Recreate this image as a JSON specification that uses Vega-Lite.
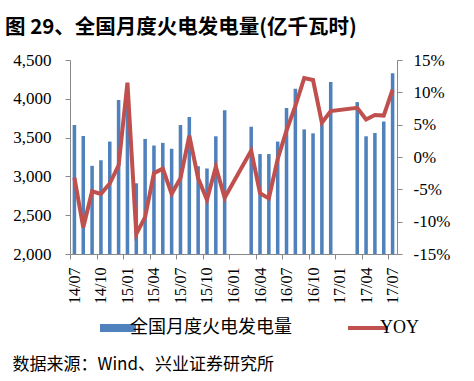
{
  "$schema": "https://vega.github.io/schema/vega-lite/v6.json",
  "width": 327,
  "height": 194,
  "autosize": {"type": "none"},
  "padding": {"left": 70, "top": 60, "right": 77, "bottom": 127},
  "background": "white",
  "config": {"view": {"stroke": null}, "font": "Liberation Serif", "axis": {"labelFont": "Liberation Serif"}},
  "title": {
    "text": "图 29、全国月度火电发电量(亿千瓦时)",
    "anchor": "start",
    "frame": "group",
    "dx": -65,
    "offset": 13,
    "font": "Noto Sans CJK SC",
    "fontSize": 20.5,
    "fontWeight": "bold",
    "color": "#000"
  },
  "data": {
    "values": [
      {"m": "14/07", "v": 3661, "yoy": -0.032},
      {"m": "14/08", "v": 3521, "yoy": -0.109},
      {"m": "14/09", "v": 3136, "yoy": -0.053},
      {"m": "14/10", "v": 3208, "yoy": -0.057},
      {"m": "14/11", "v": 3449, "yoy": -0.041},
      {"m": "14/12", "v": 3985, "yoy": -0.013},
      {"m": "15/01", "v": 4100, "yoy": 0.115},
      {"m": "15/02", "v": 2911, "yoy": -0.119},
      {"m": "15/03", "v": 3483, "yoy": -0.093},
      {"m": "15/04", "v": 3398, "yoy": -0.025},
      {"m": "15/05", "v": 3432, "yoy": -0.018},
      {"m": "15/06", "v": 3356, "yoy": -0.057},
      {"m": "15/07", "v": 3661, "yoy": -0.033},
      {"m": "15/08", "v": 3767, "yoy": 0.033},
      {"m": "15/09", "v": 3131, "yoy": -0.033},
      {"m": "15/10", "v": 3102, "yoy": -0.066},
      {"m": "15/11", "v": 3517, "yoy": -0.015},
      {"m": "15/12", "v": 3852, "yoy": -0.063},
      {"m": "16/03", "v": 3640, "yoy": 0.010},
      {"m": "16/04", "v": 3288, "yoy": -0.056},
      {"m": "16/05", "v": 3288, "yoy": -0.064},
      {"m": "16/06", "v": 3449, "yoy": -0.003},
      {"m": "16/07", "v": 3881, "yoy": 0.041},
      {"m": "16/08", "v": 4131, "yoy": 0.079},
      {"m": "16/09", "v": 3606, "yoy": 0.122},
      {"m": "16/10", "v": 3555, "yoy": 0.119},
      {"m": "16/11", "v": 3674, "yoy": 0.053},
      {"m": "16/12", "v": 4216, "yoy": 0.071},
      {"m": "17/03", "v": 3957, "yoy": 0.076},
      {"m": "17/04", "v": 3517, "yoy": 0.058},
      {"m": "17/05", "v": 3559, "yoy": 0.065},
      {"m": "17/06", "v": 3708, "yoy": 0.064},
      {"m": "17/07", "v": 4330, "yoy": 0.104}
    ]
  },
  "encoding": {
    "x": {
      "field": "m",
      "type": "ordinal",
      "scale": {
        "domain": ["14/07","14/08","14/09","14/10","14/11","14/12","15/01","15/02","15/03","15/04","15/05","15/06","15/07","15/08","15/09","15/10","15/11","15/12","16/01","16/02","16/03","16/04","16/05","16/06","16/07","16/08","16/09","16/10","16/11","16/12","17/01","17/02","17/03","17/04","17/05","17/06","17/07"],
        "paddingInner": 0.6,
        "paddingOuter": 0.3
      },
      "axis": {
        "values": ["14/07","14/10","15/01","15/04","15/07","15/10","16/01","16/04","16/07","16/10","17/01","17/04","17/07"],
        "labelAngle": -90,
        "labelFont": "Liberation Serif",
        "labelFontSize": 16,
        "labelColor": "#000",
        "labelPadding": 8,
        "bandPosition": 0.5,
        "tickOffset": -4.42,
        "labelOffset": 4.42,
        "tickSize": 5,
        "tickColor": "#898989",
        "domainColor": "#898989",
        "grid": false,
        "title": "数据来源：Wind、兴业证券研究所",
        "titleFont": "Noto Sans CJK SC",
        "titleFontSize": 17,
        "titleFontWeight": "normal",
        "titleColor": "#000",
        "titleAnchor": "start",
        "titleAlign": "left",
        "titleBaseline": "middle",
        "titleX": -58,
        "titleY": 110
      }
    }
  },
  "layer": [
    {
      "mark": {"type": "bar"},
      "encoding": {
        "y": {
          "field": "v",
          "type": "quantitative",
          "scale": {"domain": [2000, 4500], "zero": false},
          "axis": {
            "title": null,
            "values": [2000, 2500, 3000, 3500, 4000, 4500],
            "format": ",.0f",
            "grid": false,
            "labelFont": "Liberation Serif",
            "labelFontSize": 17,
            "labelColor": "#000",
            "labelPadding": 14,
            "tickSize": 5,
            "tickColor": "#898989",
            "domainColor": "#898989"
          }
        },
        "y2": {"datum": 2000},
        "color": {
          "datum": "全国月度火电发电量",
          "scale": {"domain": ["全国月度火电发电量", "YOY"], "range": ["#4F81BD", "#C0504D"]},
          "legend": {
            "orient": "none",
            "legendX": 39,
            "legendY": 259,
            "direction": "horizontal",
            "columns": 2,
            "columnPadding": 48,
            "title": null,
            "symbolSize": 1600,
            "labelFontSize": 18,
            "labelLimit": 400,
            "labelFont": "Noto Sans CJK SC",
            "labelColor": "#000",
            "labelOffset": 3,
            "encode": {
              "symbols": {
                "update": {
                  "shape": {"signal": "datum.label === 'YOY' ? 'M-1,0H1' : 'M-0.9,-0.2H0.9V0.2H-0.9Z'"},
                  "fill": {"signal": "datum.label === 'YOY' ? 'transparent' : '#4F81BD'"},
                  "stroke": {"signal": "datum.label === 'YOY' ? '#C0504D' : 'transparent'"},
                  "strokeWidth": {"signal": "datum.label === 'YOY' ? 4 : 0"},
                  "opacity": {"value": 1},
                  "fillOpacity": {"value": 1},
                  "strokeOpacity": {"value": 1},
                  "size": {"value": 1600}
                }
              },
              "labels": {
                "update": {
                  "font": {"signal": "datum.label === 'YOY' ? 'Liberation Serif' : 'Noto Sans CJK SC'"}
                }
              }
            }
          }
        }
      }
    },
    {
      "mark": {"type": "line", "strokeWidth": 4},
      "encoding": {
        "y": {
          "field": "yoy",
          "type": "quantitative",
          "scale": {"domain": [-0.15, 0.15]},
          "axis": {
            "orient": "right",
            "title": null,
            "values": [-0.15, -0.1, -0.05, 0, 0.05, 0.1, 0.15],
            "format": ".0%",
            "labelExpr": "replace(datum.label, '−', '-')",
            "grid": false,
            "labelFont": "Liberation Serif",
            "labelFontSize": 17,
            "labelColor": "#000",
            "labelPadding": 11,
            "tickSize": 5,
            "tickColor": "#898989",
            "domainColor": "#898989"
          }
        },
        "color": {"datum": "YOY"}
      }
    }
  ],
  "resolve": {"scale": {"y": "independent"}}
}
